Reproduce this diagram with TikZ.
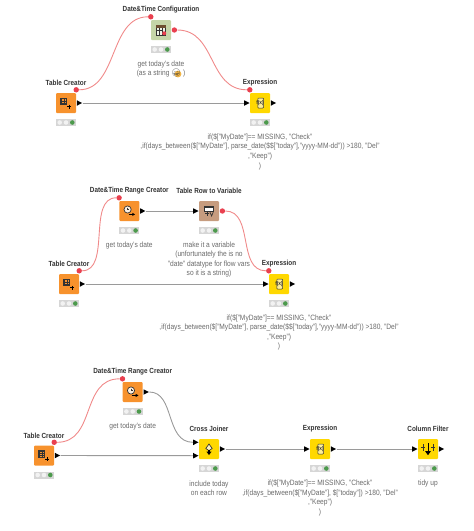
\documentclass[tikz,border=0pt]{standalone}
\usepackage{fontspec}
\setmainfont[FakeStretch=0.86]{Liberation Sans}
\newfontfamily\emojifont{Noto Emoji}
\usetikzlibrary{calc, shapes.geometric, backgrounds}
\definecolor{Orange}{HTML}{F7922D}
\definecolor{Yellow}{HTML}{FFD800}
\definecolor{LGreen}{HTML}{C5D6A8}
\definecolor{Brown}{HTML}{C69C7F}
\definecolor{Flow}{HTML}{E9404F}
\definecolor{LFlow}{HTML}{F08A8A}
\definecolor{Pipe}{HTML}{9A9A9A}
\definecolor{Bar}{HTML}{D6D6D6}
\definecolor{Ok}{HTML}{4C9A4C}
\definecolor{Ink}{HTML}{333333}
\definecolor{Note}{HTML}{6A6A6A}
\definecolor{Smile}{HTML}{F2B544}
\tikzset{
    worker/.style={minimum size=20pt, inner sep=0, rounded corners=1pt},
    title/.style={font=\fontsize{7.4}{9}\selectfont\bfseries, text=Ink, inner sep=0},
    note/.style={font=\fontsize{7.7}{9.6}\selectfont, text=Note, align=center, inner sep=0},
    statusbar/.style={fill=Bar, minimum width=20pt, minimum height=7pt, inner sep=0},
    lamp/.style={circle, fill=#1, minimum size=4.6pt, inner sep=0},
    dataport/.style={isosceles triangle, isosceles triangle stretches, fill=black,
        minimum height=5.3pt, minimum width=5.5pt, inner sep=0, anchor=west},
    flowport/.style={circle, fill=Flow, minimum size=5.4pt, inner sep=0},
    pipe/.style={Pipe, line width=0.9pt},
    flow/.style={LFlow, line width=0.9pt},
    glyph/.style={Ink, line width=0.7pt},
}

\begin{document}
\begin{tikzpicture}[x=1pt, y=-1pt]

    \useasboundingbox (0,0) rectangle (474,531);

    % Workers
    \foreach \n/\x/\y/\col/\txt in {
        tca/66/103/Orange/Table Creator,
        dtc/161/30/LGreen/Date\&Time Configuration,
        expa/260/103/Yellow/Expression,
        tcb/69/284/Orange/Table Creator,
        drb/129.3/211/Orange/Date\&Time Range Creator,
        trv/209/211/Brown/Table Row to Variable,
        expb/279/284/Yellow/Expression,
        tcc/44/455.5/Orange/Table Creator,
        drc/132.7/392/Orange/Date\&Time Range Creator,
        cj/209/449/Yellow/Cross Joiner,
        expc/320/449/Yellow/Expression,
        cf/428/449/Yellow/Column Filter} {
        \node[worker, fill=\col] (\n) at (\x,\y) {};
        \node[title] (\n-title) at (\x,\y-20) {\txt};
        \node[statusbar] (\n-bar) at (\x,\y+19.5) {};
        \node[lamp=white!95!black] (\n-lampa) at (\x-6.3,\y+19.5) {};
        \node[lamp=white!95!black] (\n-lampb) at (\x,\y+19.5) {};
        \node[lamp=Ok] (\n-lampc) at (\x+6.3,\y+19.5) {};
    }

    % Data ports
    \foreach \n in {tca,expa,tcb,drb,expb,tcc,drc,cj,expc,cf} {
        \node[dataport] (\n-out) at ([xshift=0.4pt]\n.east) {};
    }
    \foreach \n in {expa,trv,expb,expc,cf} {
        \node[dataport] (\n-in) at ([xshift=-5.8pt]\n.west) {};
    }
    \node[dataport] (cj-ina) at ([xshift=-5.8pt, yshift=6.7pt]cj.west) {};
    \node[dataport] (cj-inb) at ([xshift=-5.8pt, yshift=-6.7pt]cj.west) {};

    % Flow variable ports
    \foreach \n in {tca,tcb,tcc} {
        \node[flowport] (\n-var) at ([yshift=3pt]\n.north east) {};
    }
    \foreach \n in {dtc,expa,drb,expb,drc} {
        \node[flowport] (\n-var) at ([yshift=3pt]\n.north west) {};
    }
    \node[flowport] (dtc-varout) at ([xshift=3.2pt]dtc.east) {};
    \node[flowport] (trv-varout) at ([xshift=3.2pt]trv.east) {};

    % Connectors
    \begin{scope}[on background layer]
        \draw[pipe] (tca-out) -- (expa-in);
        \draw[pipe] (drb-out) -- (trv-in);
        \draw[pipe] (tcb-out) -- (expb-in);
        \draw[pipe] (tcc-out) -- (cj-inb);
        \draw[pipe] (cj-out) -- (expc-in);
        \draw[pipe] (expc-out) -- (cf-in);
        \draw[pipe] (drc-out) .. controls +(30,0) and +(-30,0) .. (cj-ina);

        \draw[flow] (tca-var) .. controls +(42,0) and +(-42,0) .. (dtc-var);
        \draw[flow] (dtc-varout) .. controls +(42,0) and +(-42,0) .. (expa-var);
        \draw[flow] (tcb-var) .. controls +(32,0) and +(-32,0) .. (drb-var);
        \draw[flow] (trv-varout) .. controls +(32,0) and +(-32,0) .. (expb-var);
        \draw[flow] (tcc-var) .. controls +(42,0) and +(-42,0) .. (drc-var);

        \fill[Smile] (178,74) circle (3.4);
    \end{scope}

    % Table icon
    \foreach \n in {tca,tcb,tcc} {
        \begin{scope}[shift={(\n)}]
            \draw[Ink, step=2.2pt, line width=0.35pt] (-6,-5) grid (0.6,1.6);
            \draw[Ink, line width=0.6pt] (-6,-5) rectangle (0.6,1.6);
            \draw[black, line width=1pt] (1.2,3.6) -- (5,3.6) (3.1,1.7) -- (3.1,5.5);
        \end{scope}
    }

    % Clock icon
    \foreach \n in {drb,drc} {
        \begin{scope}[shift={(\n)}]
            \draw[glyph, fill=white!85!Orange] (-1.7,-1.5) circle (3.6);
            \draw[glyph, line width=0.5pt] (-1.7,-3.4) -- (-1.7,-1.5) -- (-0.2,-1.5);
            \draw[black, line width=0.8pt] (-0.8,3.4) -- (3.5,3.4);
            \fill[black] (3,1.8) -- (5.8,3.4) -- (3,5) -- cycle;
        \end{scope}
    }

    % Expression icon
    \foreach \n in {expa,expb,expc} {
        \begin{scope}[shift={(\n)}]
            \draw[glyph, line width=0.5pt, fill=white!60!Yellow, rounded corners=0.8pt] (-2.2,-5) rectangle (3.6,5);
            \node[text=Ink, font=\fontsize{5.6}{6}\selectfont\bfseries, inner sep=0] (\n-fx) at (0,0) {f(x)};
        \end{scope}
    }

    % Calendar icon
    \begin{scope}[shift={(dtc)}]
        \draw[glyph, fill=white!70!LGreen] (-5,-4.6) rectangle (4.6,5);
        \fill[Ink!70!Orange] (-5,-4.6) rectangle (4.6,-2.2);
        \draw[glyph, line width=0.5pt] (-5,-0.2) -- (2,-0.2) (-2,-2.2) -- (-2,5) (1,-2.2) -- (1,5);
        \fill[Flow] (3.2,3.3) circle (2);
    \end{scope}

    % Row to variable icon
    \begin{scope}[shift={(trv)}]
        \draw[glyph, fill=white] (-4.6,-5) rectangle (4.6,0);
        \fill[Ink] (-4.6,-5) rectangle (4.6,-3);
        \draw[glyph] (-4,2.4) -- (0,2.4) (1,1.2) -- (2.6,5) -- (4.2,1.2);
        \draw[glyph] (-1.5,0.6) -- (-1.5,4.6);
    \end{scope}

    % Joiner icon
    \begin{scope}[shift={(cj)}]
        \draw[glyph, fill=white!75!Yellow] (0,-5) -- (3.2,-0.5) -- (0,1.6) -- (-3.2,-0.5) -- cycle;
        \fill[black] (-1,0.5) rectangle (1,2.8);
        \fill[black] (-2.6,2.6) -- (2.6,2.6) -- (0,6) -- cycle;
    \end{scope}

    % Filter icon
    \begin{scope}[shift={(cf)}]
        \foreach \dx in {-5,5} {
            \draw[glyph] (\dx,-5) -- (\dx,2);
            \draw[glyph] (\dx-2,-1.4) -- (\dx+2,-1.4);
        }
        \draw[black, line width=1pt] (0,-6) -- (0,3);
        \fill[black] (-3,2) -- (3,2) -- (0,6.2) -- cycle;
    \end{scope}

    % Notes
    \node[note] (dtc-note) at (161,69.2) {get today's date\\(as a string {\emojifont\color{Ink}😁} )};
    \node[note] (expa-note) at (260,151.7) {if(\$["MyDate"]== MISSING, "Check"\\,if(days\_between(\$["MyDate"], parse\_date(\$\$["today"],"yyyy-MM-dd")) >180, "Del"\\,"Keep")\\)};
    \node[note] (drb-note) at (129.3,245.3) {get today's date};
    \node[note] (trv-note) at (209,259.6) {make it a variable\\(unfortunately the is no\\"date" datatype for flow vars\\so it is a string)};
    \node[note] (expb-note) at (279,332.5) {if(\$["MyDate"]== MISSING, "Check"\\,if(days\_between(\$["MyDate"], parse\_date(\$\$["today"],"yyyy-MM-dd")) >180, "Del"\\,"Keep")\\)};
    \node[note] (drc-note) at (132.7,426.7) {get today's date};
    \node[note] (cj-note) at (209,488.2) {include today\\on each row};
    \node[note] (expc-note) at (320,497.8) {if(\$["MyDate"]== MISSING, "Check"\\,if(days\_between(\$["MyDate"], \$["today"]) >180, "Del"\\,"Keep")\\)};
    \node[note] (cf-note) at (428,483.3) {tidy up};

\end{tikzpicture}
\end{document}
